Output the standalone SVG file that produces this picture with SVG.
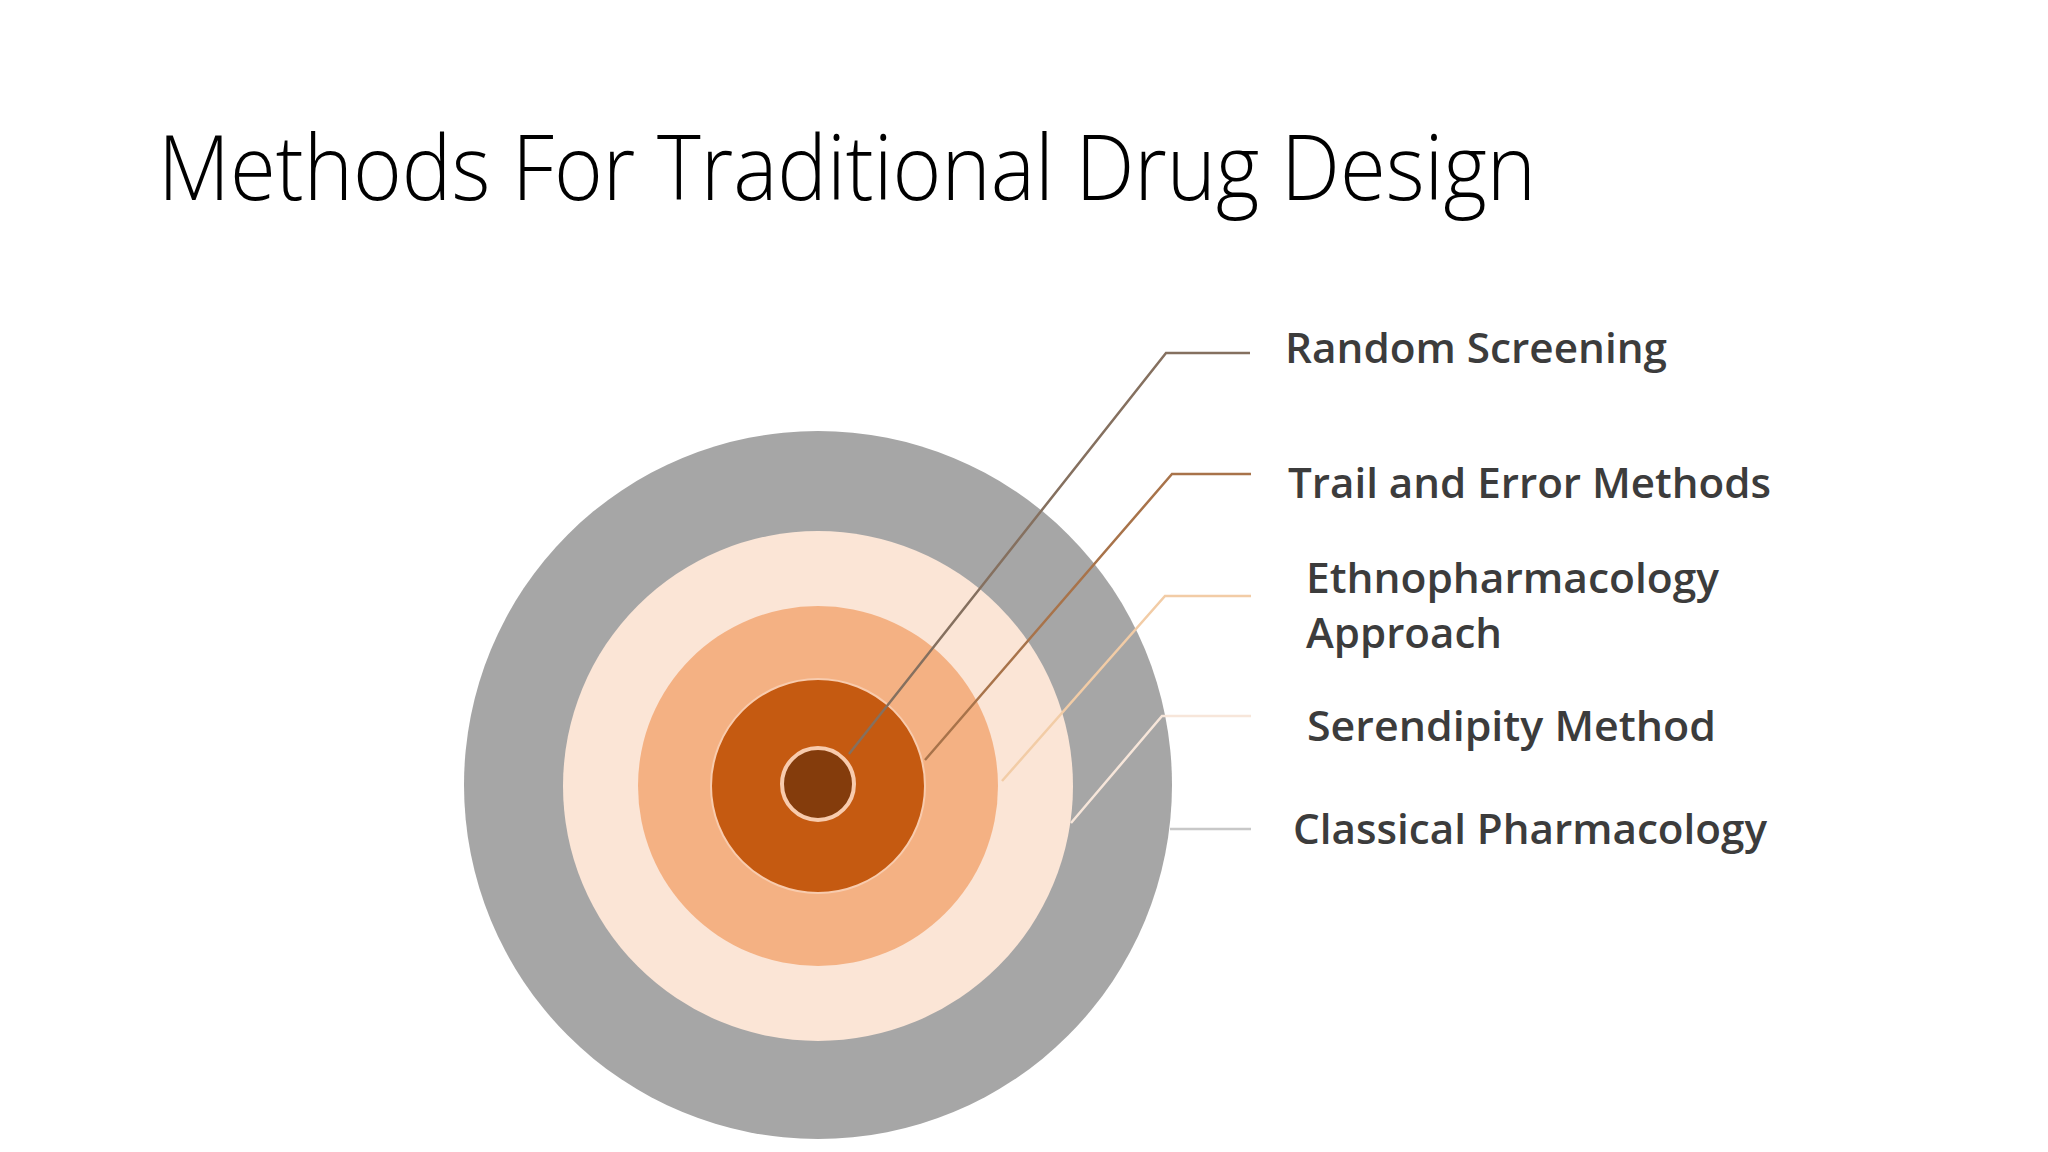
<svg xmlns="http://www.w3.org/2000/svg" width="2048" height="1152" viewBox="0 0 2048 1152">
<style>
.title{font-family:"Open Sans","Liberation Sans",sans-serif;font-weight:300;font-size:90px;fill:#000}
.lbl{font-family:"Open Sans","Liberation Sans",sans-serif;font-weight:600;font-size:42px;fill:#3c3c3c}
.ld{fill:none;stroke-width:2.5}
</style>
<rect width="2048" height="1152" fill="#ffffff"/>
<text class="title" x="158" y="200" textLength="1378" lengthAdjust="spacingAndGlyphs">Methods For Traditional Drug Design</text>
<g id="target">
<circle id="ring-classical" cx="818" cy="785" r="354" fill="#a6a6a6"/>
<circle id="ring-serendipity" cx="818" cy="786" r="255" fill="#fbe5d6"/>
<circle id="ring-ethno" cx="818" cy="786" r="180" fill="#f4b183"/>
<circle id="ring-trail" cx="818" cy="786" r="107" fill="#c55a11" stroke="#f8cbad" stroke-width="2"/>
<circle id="ring-random" cx="818" cy="784" r="36" fill="#843c0c" stroke="#f8cbad" stroke-width="4"/>
</g>
<g id="connectors">
<polyline class="ld" stroke="#85705f" points="849,754 1166,353 1250,353"/>
<polyline class="ld" stroke="#a8734a" points="925,760 1172,474 1251,474"/>
<polyline class="ld" stroke="#f2cca6" points="1002,781 1165,596 1251,596"/>
<polyline class="ld" stroke="#f7e6da" points="1071,823 1162,716 1251,716"/>
<polyline class="ld" stroke="#c8c8c8" points="1170,829 1251,829"/>
</g>
<g id="label-random"><text class="lbl" x="1285" y="363" textLength="382" lengthAdjust="spacingAndGlyphs">Random Screening</text></g>
<g id="label-trail"><text class="lbl" x="1288" y="498" textLength="483" lengthAdjust="spacingAndGlyphs">Trail and Error Methods</text></g>
<g id="label-ethno"><text class="lbl" x="1306" y="593" textLength="413" lengthAdjust="spacingAndGlyphs">Ethnopharmacology</text><text class="lbl" x="1306" y="648" textLength="196" lengthAdjust="spacingAndGlyphs">Approach</text></g>
<g id="label-serendipity"><text class="lbl" x="1307" y="741" textLength="409" lengthAdjust="spacingAndGlyphs">Serendipity Method</text></g>
<g id="label-classical"><text class="lbl" x="1293" y="844" textLength="474" lengthAdjust="spacingAndGlyphs">Classical Pharmacology</text></g>
</svg>
